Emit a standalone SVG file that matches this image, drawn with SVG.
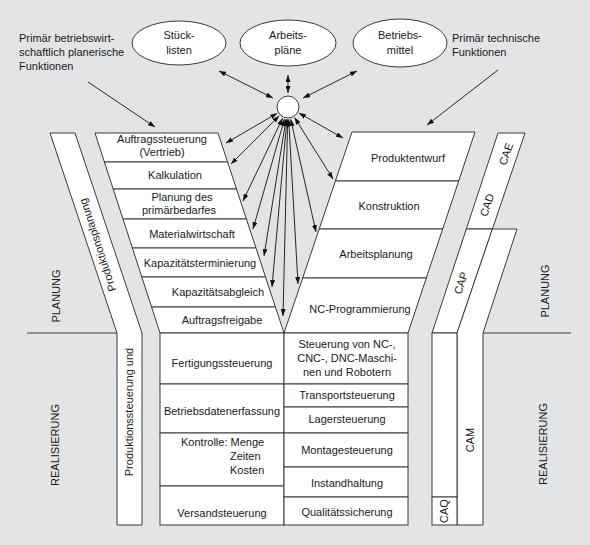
<svg xmlns="http://www.w3.org/2000/svg" width="590" height="545" viewBox="0 0 590 545">
<defs>
<style>
.t{font-family:"Liberation Sans",Arial,sans-serif;font-size:11px;fill:#1a1a1a;text-anchor:middle}
.s{text-anchor:start}
.b{fill:#fff;stroke:#3a3a3a;stroke-width:1}
.ln{fill:none;stroke:#3a3a3a;stroke-width:1}
.a{fill:none;stroke:#111;stroke-width:0.9}
</style>
<marker id="ah" viewBox="0 0 7 5" refX="7" refY="2.5" markerWidth="7" markerHeight="5" markerUnits="userSpaceOnUse" orient="auto-start-reverse">
<path d="M0,0 L7,2.5 L0,5 z" fill="#111"/>
</marker>
</defs>
<rect width="590" height="545" fill="#e3e4e6"/>

<g id="label-left">
<text class="t s" x="19" y="42">Primär betriebswirt-</text>
<text class="t s" x="19" y="56">schaftlich planerische</text>
<text class="t s" x="19" y="70">Funktionen</text>
</g>
<g id="label-right">
<text class="t s" x="452" y="42">Primär technische</text>
<text class="t s" x="452" y="56">Funktionen</text>
</g>

<g id="stuecklisten">
<ellipse class="b" cx="179" cy="43" rx="47" ry="22"/>
<text class="t" x="179" y="39">Stück-</text>
<text class="t" x="179" y="54">listen</text>
</g>
<g id="arbeitsplaene">
<ellipse class="b" cx="288" cy="43" rx="48" ry="23"/>
<text class="t" x="288" y="39">Arbeits-</text>
<text class="t" x="288" y="54">pläne</text>
</g>
<g id="betriebsmittel">
<ellipse class="b" cx="400" cy="43" rx="47" ry="24"/>
<text class="t" x="400" y="39">Betriebs-</text>
<text class="t" x="400" y="54">mittel</text>
</g>
<g id="hub">
<circle class="b" cx="288" cy="107" r="11"/>
</g>

<g id="bar-produktionsplanung">
<polygon class="b" points="50,133 75,133 142,333 142,525 117,525 117,333"/>
<text class="t" x="97.5" y="245" dy="0.35em" transform="rotate(-108 97.5 245)">Produktionsplanung</text>
<text class="t" x="129.5" y="412" dy="0.35em" transform="rotate(-90 129.5 412)">Produktionssteuerung und</text>
</g>

<g id="left-v">
<g id="r-auftragssteuerung"><polygon class="b" points="95,133 218,133 227.6,162 104.4,162"/>
<text class="t" x="162" y="143">Auftragssteuerung</text><text class="t" x="162" y="156">(Vertrieb)</text></g>
<g id="r-kalkulation"><polygon class="b" points="104.4,162 227.6,162 236.5,189 113.2,189"/>
<text class="t" x="175" y="179">Kalkulation</text></g>
<g id="r-planung"><polygon class="b" points="113.2,189 236.5,189 246.4,219 123,219"/>
<text class="t" x="182" y="201">Planung des</text><text class="t" x="179" y="214">primärbedarfes</text></g>
<g id="r-material"><polygon class="b" points="123,219 246.4,219 256,248 132.4,248"/>
<text class="t" x="192" y="238">Materialwirtschaft</text></g>
<g id="r-kaptermin"><polygon class="b" points="132.4,248 256,248 265.5,277 141.8,277"/>
<text class="t" x="200" y="267">Kapazitätsterminierung</text></g>
<g id="r-kapabgleich"><polygon class="b" points="141.8,277 265.5,277 275.4,307 151.6,307"/>
<text class="t" x="218" y="296">Kapazitätsabgleich</text></g>
<g id="r-freigabe"><polygon class="b" points="151.6,307 275.4,307 284,333 160,333"/>
<text class="t" x="222" y="324">Auftragsfreigabe</text></g>
</g>

<g id="right-v">
<g id="r-produktentwurf"><polygon class="b" points="352,132 475,132 458.7,181 335.4,181"/>
<text class="t" x="408" y="162">Produktentwurf</text></g>
<g id="r-konstruktion"><polygon class="b" points="335.4,181 458.7,181 442.7,229 319.2,229"/>
<text class="t" x="389" y="210">Konstruktion</text></g>
<g id="r-arbeitsplanung"><polygon class="b" points="319.2,229 442.7,229 426.3,278 302.7,278"/>
<text class="t" x="376" y="258">Arbeitsplanung</text></g>
<g id="r-nc"><polygon class="b" points="302.7,278 426.3,278 408,333 284,333"/>
<text class="t" x="360" y="313">NC-Programmierung</text></g>
</g>

<g id="cax-bars">
<g id="bar-cad"><polygon class="b" points="498,133 525,133 492.4,229 466.3,229"/>
<text class="t" x="506" y="154" dy="0.35em" transform="rotate(-71.5 506 154)">CAE</text>
<text class="t" x="487" y="205" dy="0.35em" transform="rotate(-71.5 487 205)">CAD</text></g>
<g id="bar-cap"><polygon class="b" points="466.3,229 492.4,229 457,333 432,333"/>
<text class="t" x="461" y="283" dy="0.35em" transform="rotate(-71.5 461 283)">CAP</text></g>
<g id="bar-cam"><polygon class="b" points="492.4,229 517,229 483,333 483,525 457,525 457,333"/>
<text class="t" x="470" y="440" dy="0.35em" transform="rotate(-90 470 440)">CAM</text></g>
<g id="bar-caq-col"><rect class="b" x="432" y="333" width="25" height="164"/></g>
<g id="bar-caq"><rect class="b" x="432" y="497" width="25" height="28"/>
<text class="t" x="444.5" y="511" dy="0.35em" transform="rotate(-90 444.5 511)">CAQ</text></g>
</g>

<g id="table-left">
<g id="c-fertigung"><rect class="b" x="160" y="333" width="124" height="51"/>
<text class="t" x="222" y="367">Fertigungssteuerung</text></g>
<g id="c-bde"><rect class="b" x="160" y="384" width="124" height="49"/>
<text class="t" x="222" y="415">Betriebsdatenerfassung</text></g>
<g id="c-kontrolle"><rect class="b" x="160" y="433" width="124" height="53"/>
<text class="t s" x="181" y="446">Kontrolle: Menge</text>
<text class="t s" x="230" y="460">Zeiten</text>
<text class="t s" x="230" y="474">Kosten</text></g>
<g id="c-versand"><rect class="b" x="160" y="486" width="124" height="39"/>
<text class="t" x="222" y="517">Versandsteuerung</text></g>
</g>
<g id="table-right">
<g id="c-nc"><rect class="b" x="284" y="333" width="124" height="51"/>
<text class="t" x="347" y="348">Steuerung von NC-,</text>
<text class="t" x="347" y="362">CNC-, DNC-Maschi-</text>
<text class="t" x="347" y="376">nen und Robotern</text></g>
<g id="c-transport"><rect class="b" x="284" y="384" width="124" height="23"/>
<text class="t" x="347" y="399">Transportsteuerung</text></g>
<g id="c-lager"><rect class="b" x="284" y="407" width="124" height="26"/>
<text class="t" x="347" y="423">Lagersteuerung</text></g>
<g id="c-montage"><rect class="b" x="284" y="433" width="124" height="34"/>
<text class="t" x="347" y="454">Montagesteuerung</text></g>
<g id="c-instand"><rect class="b" x="284" y="467" width="124" height="30"/>
<text class="t" x="347" y="487">Instandhaltung</text></g>
<g id="c-qs"><rect class="b" x="284" y="497" width="124" height="28"/>
<text class="t" x="347" y="516">Qualitätssicherung</text></g>
</g>

<g id="phase-labels">
<line class="ln" x1="27" y1="333" x2="117" y2="333"/>
<line class="ln" x1="483" y1="333" x2="571" y2="333"/>
<text class="t" x="56" y="296" dy="0.35em" transform="rotate(-90 56 296)">PLANUNG</text>
<text class="t" x="545" y="291" dy="0.35em" transform="rotate(-90 545 291)">PLANUNG</text>
<text class="t" x="55" y="445" dy="0.35em" transform="rotate(-90 55 445)">REALISIERUNG</text>
<text class="t" x="543" y="444" dy="0.35em" transform="rotate(-90 543 444)">REALISIERUNG</text>
</g>

<g id="connectors">
<line class="a" x1="88" y1="82" x2="155" y2="127" marker-end="url(#ah)"/>
<line class="a" x1="498" y1="70" x2="427" y2="125" marker-end="url(#ah)"/>
<line class="a" x1="219" y1="71" x2="273" y2="98" marker-start="url(#ah)" marker-end="url(#ah)"/>
<line class="a" x1="357" y1="71" x2="303" y2="98" marker-start="url(#ah)" marker-end="url(#ah)"/>
<line class="a" x1="288" y1="75" x2="288" y2="93" marker-start="url(#ah)" marker-end="url(#ah)"/>
<line class="a" x1="277.2" y1="113.3" x2="226" y2="143" marker-start="url(#ah)" marker-end="url(#ah)"/>
<line class="a" x1="279.2" y1="115.8" x2="231" y2="164" marker-start="url(#ah)" marker-end="url(#ah)"/>
<line class="a" x1="282.6" y1="118.3" x2="243" y2="201" marker-start="url(#ah)" marker-end="url(#ah)"/>
<line class="a" x1="284.5" y1="119" x2="253" y2="229" marker-start="url(#ah)" marker-end="url(#ah)"/>
<line class="a" x1="286" y1="119.3" x2="264" y2="256" marker-start="url(#ah)" marker-end="url(#ah)"/>
<line class="a" x1="286.9" y1="119.5" x2="272" y2="287" marker-start="url(#ah)" marker-end="url(#ah)"/>
<line class="a" x1="287.7" y1="119.5" x2="283" y2="316" marker-start="url(#ah)" marker-end="url(#ah)"/>
<line class="a" x1="288.7" y1="119.5" x2="298" y2="284" marker-start="url(#ah)" marker-end="url(#ah)"/>
<line class="a" x1="290.7" y1="119.2" x2="316" y2="232" marker-start="url(#ah)" marker-end="url(#ah)"/>
<line class="a" x1="294.6" y1="117.6" x2="333" y2="179" marker-start="url(#ah)" marker-end="url(#ah)"/>
<line class="a" x1="298.9" y1="113.1" x2="343" y2="138" marker-start="url(#ah)" marker-end="url(#ah)"/>
</g>
</svg>
